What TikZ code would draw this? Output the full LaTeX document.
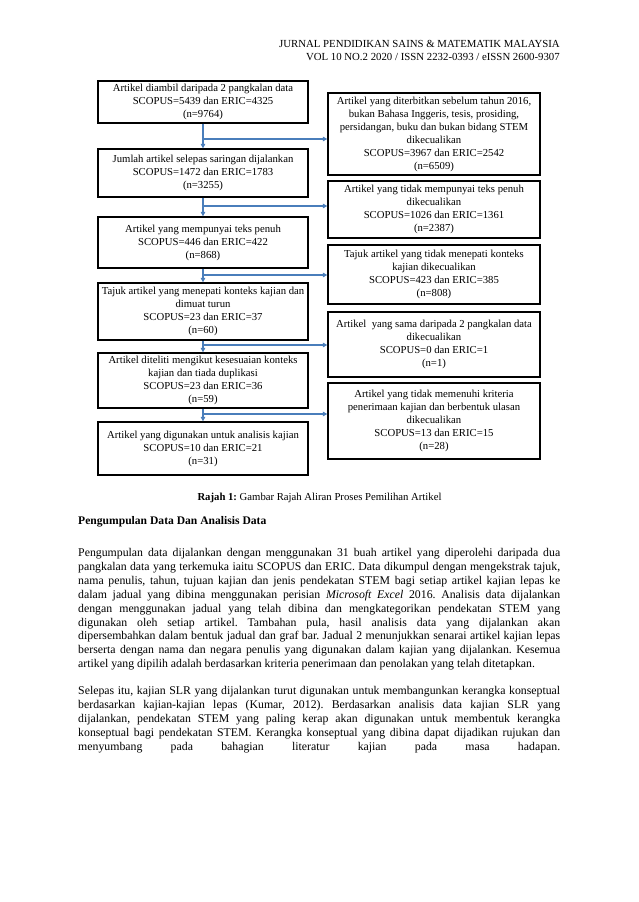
\documentclass[tikz,border=0pt]{standalone}
\usepackage{fontspec}
\setmainfont{Liberation Serif}
\usetikzlibrary{arrows.meta}
\definecolor{arrblue}{RGB}{74,126,187}
\frenchspacing
\begin{document}
\begin{tikzpicture}[x=1pt,y=-1pt,
  box/.style={draw=black, line width=1.3pt, minimum width=210pt, inner sep=0pt,
    align=center, font=\fontsize{10.7}{13}\selectfont},
  rbox/.style={box, minimum width=212pt},
  arr/.style={draw=arrblue, line width=1.1pt, -{Triangle[length=4.5pt,width=4.5pt]}},
  txt/.style={inner sep=0pt}]
\useasboundingbox[fill=white] (0,0) rectangle (638,902);

% header
\node[txt, anchor=base east, font=\fontsize{10.8}{12}\selectfont] (h1) at (560,47.5) {JURNAL PENDIDIKAN SAINS \& MATEMATIK MALAYSIA};
\node[txt, anchor=base east, font=\fontsize{10.8}{12}\selectfont] (h2) at (560,60.5) {VOL 10 NO.2 2020 / ISSN 2232-0393 / eISSN 2600-9307};

% left column
\node[box, minimum height=42pt] (L1) at (203,102) {Artikel diambil daripada 2 pangkalan data\\SCOPUS=5439 dan ERIC=4325\\(n=9764)};
\node[box, minimum height=48pt] (L2) at (203,173) {Jumlah artikel selepas saringan dijalankan\\SCOPUS=1472 dan ERIC=1783\\(n=3255)};
\node[box, minimum height=51pt] (L3) at (203,242.5) {Artikel yang mempunyai teks penuh\\SCOPUS=446 dan ERIC=422\\(n=868)};
\node[box, minimum height=57pt] (L4) at (203,311.5) {Tajuk artikel yang menepati konteks kajian dan\\dimuat turun\\SCOPUS=23 dan ERIC=37\\(n=60)};
\node[box, minimum height=55pt] (L5) at (203,380.5) {Artikel diteliti mengikut kesesuaian konteks\\kajian dan tiada duplikasi\\SCOPUS=23 dan ERIC=36\\(n=59)};
\node[box, minimum height=53pt] (L6) at (203,448.5) {Artikel yang digunakan untuk analisis kajian\\SCOPUS=10 dan ERIC=21\\(n=31)};

% right column
\node[rbox, minimum height=82pt] (R1) at (434,134) {Artikel yang diterbitkan sebelum tahun 2016,\\bukan Bahasa Inggeris, tesis, prosiding,\\persidangan, buku dan bukan bidang STEM\\dikecualikan\\SCOPUS=3967 dan ERIC=2542\\(n=6509)};
\node[rbox, minimum height=57pt] (R2) at (434,209.5) {Artikel yang tidak mempunyai teks penuh\\dikecualikan\\SCOPUS=1026 dan ERIC=1361\\(n=2387)};
\node[rbox, minimum height=59pt] (R3) at (434,274.5) {Tajuk artikel yang tidak menepati konteks\\kajian dikecualikan\\SCOPUS=423 dan ERIC=385\\(n=808)};
\node[rbox, minimum height=65pt] (R4) at (434,344.5) {Artikel\ \ yang sama daripada 2 pangkalan data\\dikecualikan\\SCOPUS=0 dan ERIC=1\\(n=1)};
\node[rbox, minimum height=76pt] (R5) at (434,421) {Artikel yang tidak memenuhi kriteria\\penerimaan kajian dan berbentuk ulasan\\dikecualikan\\SCOPUS=13 dan ERIC=15\\(n=28)};

% connectors
\draw[arr] (L1.south) -- (L2.north);
\draw[arr] (L2.south) -- (L3.north);
\draw[arr] (L3.south) -- (L4.north);
\draw[arr] (L4.south) -- (L5.north);
\draw[arr] (L5.south) -- (L6.north);
\coordinate (b1) at (203,139);
\coordinate (b2) at (203,206);
\coordinate (b3) at (203,275);
\coordinate (b4) at (203,345);
\coordinate (b5) at (203,414);
\draw[arr] (b1) -- (b1 -| R1.west);
\draw[arr] (b2) -- (b2 -| R2.west);
\draw[arr] (b3) -- (b3 -| R3.west);
\draw[arr] (b4) -- (b4 -| R4.west);
\draw[arr] (b5) -- (b5 -| R5.west);

% caption and heading
\node[txt, anchor=base, font=\fontsize{10.7}{12}\selectfont] (cap) at (319.5,500.5) {\textbf{Rajah 1:} Gambar Rajah Aliran Proses Pemilihan Artikel};
\node[txt, anchor=base west, font=\fontsize{11.6}{14}\selectfont\bfseries] (head) at (78,524) {Pengumpulan Data Dan Analisis Data};

% paragraphs
\node[txt, anchor=base west] (p1) at (78,556.5) {\parbox[t]{482pt}{\fontsize{11.8}{13.9}\selectfont
\makebox[482pt][s]{Pengumpulan data dijalankan dengan menggunakan 31 buah artikel yang diperolehi daripada dua}\\
\makebox[482pt][s]{pangkalan data yang terkemuka iaitu SCOPUS dan ERIC. Data dikumpul dengan mengekstrak tajuk,}\\
\makebox[482pt][s]{nama penulis, tahun, tujuan kajian dan jenis pendekatan STEM bagi setiap artikel kajian lepas ke}\\
\makebox[482pt][s]{dalam jadual yang dibina menggunakan perisian \textit{Microsoft Excel} 2016. Analisis data dijalankan}\\
\makebox[482pt][s]{dengan menggunakan jadual yang telah dibina dan mengkategorikan pendekatan STEM yang}\\
\makebox[482pt][s]{digunakan oleh setiap artikel. Tambahan pula, hasil analisis data yang dijalankan akan}\\
\makebox[482pt][s]{dipersembahkan dalam bentuk jadual dan graf bar. Jadual 2 menunjukkan senarai artikel kajian lepas}\\
\makebox[482pt][s]{berserta dengan nama dan negara penulis yang digunakan dalam kajian yang dijalankan. Kesemua}\\
\makebox[482pt][l]{artikel yang dipilih adalah berdasarkan kriteria penerimaan dan penolakan yang telah ditetapkan.}}};
\node[txt, anchor=base west] (p2) at (78,694.5) {\parbox[t]{482pt}{\fontsize{11.8}{14}\selectfont
\makebox[482pt][s]{Selepas itu, kajian SLR yang dijalankan turut digunakan untuk membangunkan kerangka konseptual}\\
\makebox[482pt][s]{berdasarkan kajian-kajian lepas (Kumar, 2012). Berdasarkan analisis data kajian SLR yang}\\
\makebox[482pt][s]{dijalankan, pendekatan STEM yang paling kerap akan digunakan untuk membentuk kerangka}\\
\makebox[482pt][s]{konseptual bagi pendekatan STEM. Kerangka konseptual yang dibina dapat dijadikan rujukan dan}\\
\makebox[482pt][s]{menyumbang pada bahagian literatur kajian pada masa hadapan.}}};
\end{tikzpicture}
\end{document}
